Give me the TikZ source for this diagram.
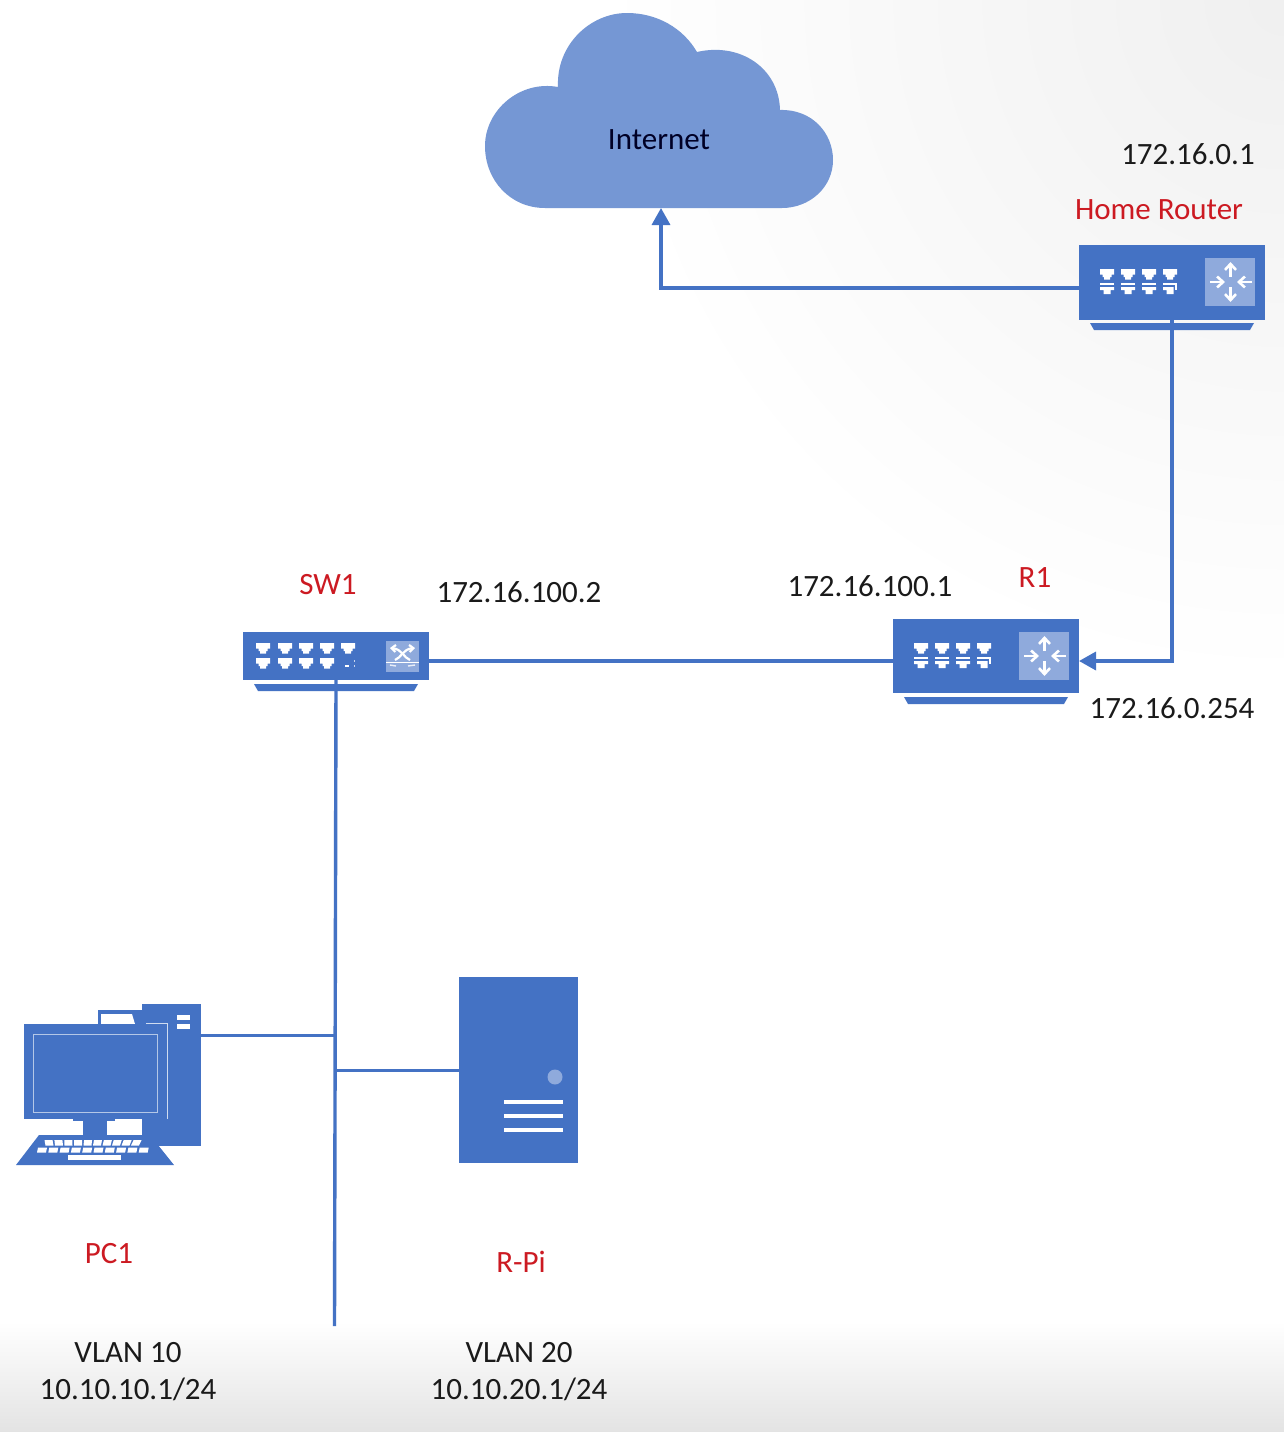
\documentclass[tikz,border=0pt]{standalone}
\usepackage{fontspec}
\setmainfont{Carlito}
\usetikzlibrary{arrows.meta,calc}
\definecolor{netblue}{HTML}{4472C4}
\definecolor{cloudblue}{HTML}{7597D4}
\definecolor{lightsq}{HTML}{8FAADC}
\definecolor{lablack}{HTML}{1A1A1A}
\definecolor{labred}{HTML}{CC1A22}
\newlength{\pxu}\setlength{\pxu}{0.75pt}
\tikzset{
  devicebox/.style={rectangle,fill=netblue,draw=none,inner sep=0pt,outer sep=0pt,minimum width=186\pxu},
  towerbox/.style={rectangle,fill=netblue,draw=none,inner sep=0pt,outer sep=0pt},
  wire/.style={draw=netblue,line width=3.4\pxu},
  thinwire/.style={draw=netblue,line width=3\pxu},
  tipwire/.style={wire,-{Triangle[length=12.75pt,width=13.5pt]}},
  lab/.style={inner sep=0pt,outer sep=0pt,font=\fontsize{23.25}{28}\selectfont,text=lablack},
  redlab/.style={lab,text=labred},
  whitearrow/.style={draw=white,line width=2.6\pxu,-{Straight Barb[length=4.5pt,width=8.25pt]}},
}
% one port, centred on x=0, top at y=0
\newcommand{\portglyph}{\fill[white] (-7,0) -- (7,0) -- (7,5.5) -- (4.5,5.5) -- (4.5,8) -- (3,8) -- (3,10.5) -- (-3,10.5) -- (-3,8) -- (-4.5,8) -- (-4.5,5.5) -- (-7,5.5) -- cycle;}
% router face, origin at the top left corner of the box
\newcommand{\routerface}{%
  \fill[netblue] (11,78) -- (175,78) -- (171,85) -- (15,85) -- cycle;
  \fill[lightsq] (126,13) rectangle (176,61);
  \draw[whitearrow] (151.5,32) -- (151.5,17);
  \draw[whitearrow] (151.5,42) -- (151.5,57);
  \draw[whitearrow] (131,37) -- (146,37);
  \draw[whitearrow] (173,37) -- (158,37);
  \foreach \q in {28,49,70,91}{
    \begin{scope}[shift={(\q,24)}]\portglyph\end{scope}
    \fill[white] (\q-7,38) rectangle (\q+7,40);
  }
  \foreach \q in {28,49,70}{
    \begin{scope}[shift={(\q,42)}]
      \fill[white] (-7,0) -- (7,0) -- (7,3) -- (3.5,3) -- (3.5,7) -- (-3.5,7) -- (-3.5,3) -- (-7,3) -- cycle;
    \end{scope}
  }
  \fill[white] (91-7,42) -- (91+3.5,42) -- (91+3.5,49) -- (91-3.5,49) -- (91-3.5,45) -- (91-7,45) -- cycle;
  \fill[netblue] (91+5,40) rectangle (91+8,38);
  \fill[white] (91+5,38) rectangle (91+7,45);
}
\begin{document}
\begin{tikzpicture}[x=\pxu,y=-\pxu]
\useasboundingbox (0,0) rectangle (1284,1432);
\fill[white] (0,0) rectangle (1284,1432);
% page shading
\begin{scope}
  \clip (0,0) rectangle (1284,1432);
  \shade[inner color=black!6,outer color=white] (1284,0) circle (680);
  \shade[top color=white,bottom color=black!11] (-1,1322) rectangle (1285,1433);
\end{scope}

% cloud
\fill[cloudblue] (558,87) .. controls (556,45) and (590,13) .. (627,13)
  .. controls (657,13) and (683,28) .. (697,52)
  .. controls (740,42) and (779,68) .. (780,110)
  .. controls (812,109) and (833,133) .. (833,160)
  .. controls (833,187) and (810,208) .. (782,208)
  -- (545,208)
  .. controls (510,208) and (485,180) .. (485,146)
  .. controls (485,110) and (520,80) .. (558,87) -- cycle;
\node[lab,text=black!85!blue] (internet) at (659,140) {Internet};
\coordinate (cloudbase) at (661,208);

% home router
\node[devicebox,minimum height=75\pxu] (router) at (1172,282.5) {};
\begin{scope}[shift={(1079,245)}]\routerface\end{scope}
% R1
\node[devicebox,minimum height=74\pxu] (rone) at (986,656) {};
\begin{scope}[shift={(893,619)}]\routerface\end{scope}
% SW1
\node[devicebox,minimum height=48\pxu] (swone) at (336,656) {};
\begin{scope}[shift={(243,632)}]
  \fill[netblue] (11,52) -- (175,52) -- (171,59) -- (15,59) -- cycle;
  \foreach \q in {20,42,63,84,105}{
    \begin{scope}[shift={(\q,11)}]\portglyph\end{scope}
  }
  \foreach \q in {20,42,63,84}{
    \begin{scope}[shift={(\q,26)}]\portglyph\end{scope}
  }
  \fill[white] (102,33) rectangle (106,35);
  \fill[white!70!netblue] (111,28) rectangle (112,30);
  \fill[white!70!netblue] (111,33) rectangle (112,35);
  \fill[lightsq] (143,9) rectangle (176,40);
  \draw[whitearrow,line width=2.2\pxu,-{Straight Barb[length=3pt,width=5.25pt]}] (152,28) .. controls (158,26) and (160,17) .. (172,16);
  \draw[whitearrow,line width=2.2\pxu,-{Straight Barb[length=3pt,width=5.25pt]}] (167,28) .. controls (161,26) and (159,17) .. (147,16);
  \fill[white] (143,29.5) rectangle (176,30.8);
  \draw[white!80!lightsq,line width=1.4\pxu] (147,33) -- (153,34);
  \draw[white!80!lightsq,line width=1.4\pxu] (172,33) -- (165,34);
\end{scope}

% PC1
\node[towerbox,minimum width=59\pxu,minimum height=142\pxu] (pctower) at (171.5,1075) {};
\fill[white] (177,1015) rectangle (190,1020);
\fill[white] (177,1024) rectangle (190,1029);
\fill[netblue] (98,1010) rectangle (142,1026);
\fill[white] (101,1014) -- (132,1014) -- (135,1024) -- (101,1024) -- cycle;
\fill[netblue] (24,1024) rectangle (167,1119);
\draw[white!75!netblue,line width=1\pxu] (146,1023.5) -- (167,1023.5) -- (167,1119);
\draw[white!60!netblue,line width=1\pxu] (33,1034) rectangle (157,1112);
\fill[netblue] (83,1119) rectangle (107,1136);
\fill[netblue] (73,1119) rectangle (115,1121);
\fill[netblue] (39,1135) -- (150,1135) -- (174,1165) -- (16,1165) -- cycle;
\foreach \k in {0,...,9}{
  \fill[white] ({44.5+\k*9.9},1140) -- ({52.5+\k*9.9},1140) -- ({51.5+\k*9.9-0.4*(\k-5)},1145.5) -- ({43.5+\k*9.9-0.4*(\k-5)},1145.5) -- cycle;
  \fill[white] ({38+\k*11.3},1147.5) -- ({47+\k*11.3},1147.5) -- ({46+\k*11.3},1152.5) -- ({37+\k*11.3},1152.5) -- cycle;
}
\fill[white] (68,1155) rectangle (121,1159.5);

% R-Pi
\node[towerbox,minimum width=119\pxu,minimum height=186\pxu] (rpi) at (518.5,1070) {};
\fill[lightsq] (555,1077) circle (7.5);
\foreach \r in {1102,1116,1130}{\fill[white] (504,\r-2.3) rectangle (563,\r+2.3);}

% connectors
\coordinate (routerleft) at (1079,288);
\coordinate (routerdrop) at (1172,320);
\coordinate (roneright) at (1079,661);
\coordinate (roneleft) at (893,661);
\coordinate (swright) at (429,661);
\coordinate (swdrop) at (336,680);
\coordinate (busend) at (334.5,1326);
\coordinate (pcjoin) at (335.5,1035);
\coordinate (rpijoin) at (335.5,1070);
\coordinate (pcright) at (201,1035);
\coordinate (rpileft) at (459,1070);
\draw[tipwire] (routerleft) -| (cloudbase);
\draw[tipwire] (routerdrop) |- (roneright);
\draw[wire] (roneleft) -- (swright);
\draw[wire] (swdrop) -- (busend);
\draw[thinwire] (pcright) -- (pcjoin);
\draw[thinwire] (rpileft) -- (rpijoin);

% labels
\node[lab] (ipa) at (1188,154) {172.16.0.1};
\node[redlab] (lbrouter) at (1159,210) {Home Router};
\node[redlab] (lbrone) at (1035,578) {R1};
\node[redlab] (lbsw) at (328,585) {SW1};
\node[lab] (ipb) at (519,592) {172.16.100.2};
\node[lab] (ipc) at (870,586) {172.16.100.1};
\node[lab] (ipd) at (1172,708) {172.16.0.254};
\node[redlab] (lbpc) at (109,1254) {PC1};
\node[redlab] (lbrpi) at (521,1262) {R-Pi};
\node[lab] (vlana) at (128,1353) {VLAN 10};
\node[lab] (addra) at (128,1389) {10.10.10.1/24};
\node[lab] (vlanb) at (519,1353) {VLAN 20};
\node[lab] (addrb) at (519,1389) {10.10.20.1/24};
\end{tikzpicture}
\end{document}
